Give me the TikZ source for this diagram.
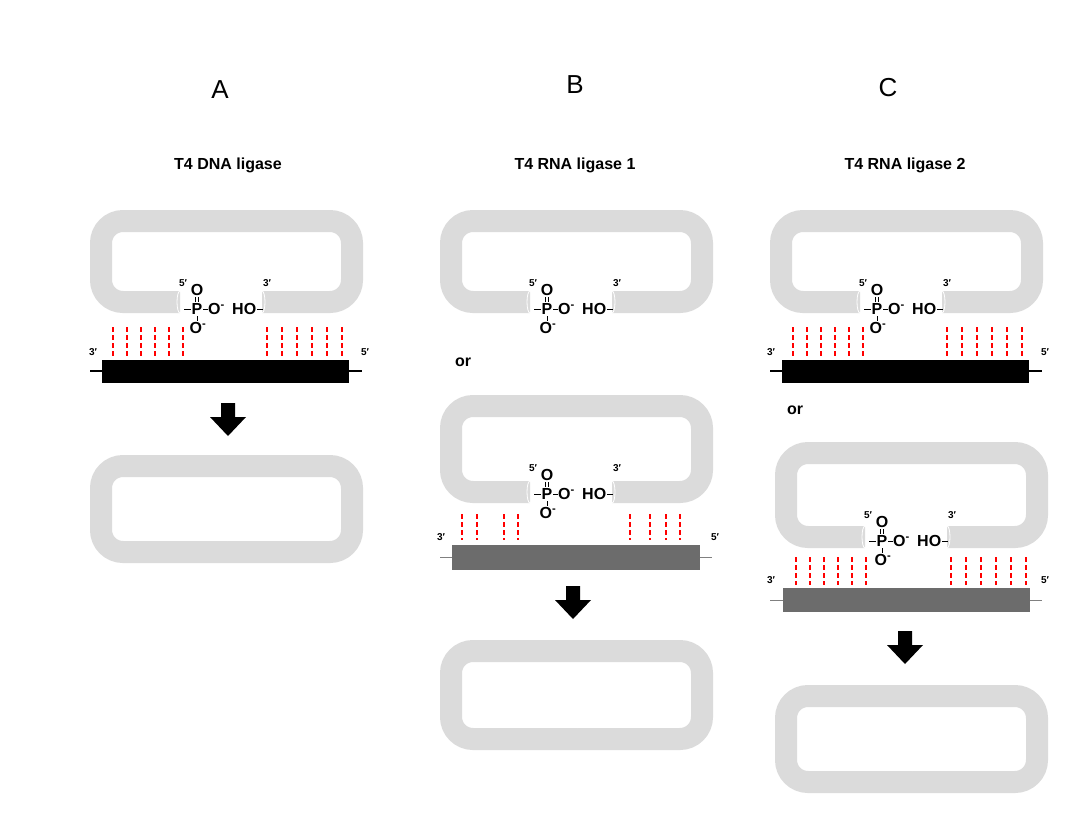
\documentclass[tikz,border=0pt]{standalone}
\usepackage{fontspec}
\setmainfont{Liberation Sans}
\begin{document}
\begin{tikzpicture}[x=1pt,y=-1pt,
  loop/.style={line width=22pt,draw=gray!28,rounded corners=22pt},
  lab/.style={font=\fontsize{10}{10}\selectfont\bfseries,inner sep=0pt},
  chem/.style={font=\fontsize{16}{16}\selectfont\bfseries,inner sep=0pt},
  hb/.style={draw=red,line width=1.6pt,dash pattern=on 5pt off 3pt},
  ttl/.style={font=\fontsize{16}{16}\selectfont\bfseries}]
\useasboundingbox (0,0) rectangle (1080,815);
\newcommand\bigarr[2]{\fill[black] (#1-7,#2) -- (#1+7,#2) -- (#1+7,#2+14) -- (#1+18,#2+14) -- (#1,#2+33) -- (#1-18,#2+14) -- (#1-7,#2+14) -- cycle;}
% open loop: #1 x outer left, #2 y outer top, #3 height
\newcommand\openloop[3]{%
  \draw[loop,line cap=butt] (#1+90,#2+#3-11) -- (#1+11,#2+#3-11) -- (#1+11,#2+11) -- (#1+262,#2+11) -- (#1+262,#2+#3-11) -- (#1+172,#2+#3-11);
  \draw[white,line width=0.8pt] (#1+90,#2+#3-11) ellipse (3pt and 11pt) (#1+172,#2+#3-11) ellipse (3pt and 11pt);
  \node[lab] at (#1+93,#2+73) {5′};
  \node[lab] at (#1+177,#2+73) {3′};
  \node[chem] at (#1+107,#2+80) {O};
  \draw[line width=0.9pt] (#1+105.5,#2+87) -- (#1+105.5,#2+92) (#1+108.5,#2+87) -- (#1+108.5,#2+92);
  \node[chem] at (#1+107,#2+99) {P};
  \draw[line width=1pt] (#1+94,#2+99) -- (#1+101,#2+99) (#1+113,#2+99) -- (#1+118,#2+99) (#1+107,#2+106) -- (#1+107,#2+111);
  \node[chem,anchor=west] at (#1+118,#2+99) {O\textsuperscript{-}};
  \node[chem] at (#1+108,#2+118) {O\textsuperscript{-}};
  \node[chem,anchor=west] at (#1+142,#2+99) {HO};
  \draw[line width=1pt] (#1+167,#2+99) -- (#1+173,#2+99);}
\newcommand\closedloop[3]{%
  \draw[loop] (#1+11,#2+11) rectangle (#1+262,#2+#3-11);
  \draw[white,line width=0.6pt] (#1+138,#2+#3-22) arc (-90:90:-2pt and 11pt);}
% ---------------- A
\node[font=\fontsize{26}{26}\selectfont] at (220,90) {A};
\node[ttl] at (228,165) {T4 DNA ligase};
\openloop{90}{210}{103}
\foreach \x in {113,127,141,155,169,183,267,282,297,312,327,342} \draw[hb] (\x,327) -- (\x,357);
\draw[line width=1.2pt] (90,371) -- (362,371);
\fill[black] (102,360) rectangle (349,383);
\node[lab] at (93,352) {3′};
\node[lab] at (365,352) {5′};
\bigarr{228}{403}
\closedloop{90}{455}{108}
% ---------------- B
\node[font=\fontsize{26}{26}\selectfont] at (575,85) {B};
\node[ttl] at (575,165) {T4 RNA ligase 1};
\openloop{440}{210}{103}
\node[ttl] at (463,362) {or};
\openloop{440}{395}{108}
\foreach \x in {462,477,504,518,630,650,666,680} \draw[hb] (\x,514) -- (\x,540);
\draw[line width=1pt,gray] (440,557) -- (712,557);
\fill[gray!85!black] (452,545) rectangle (700,570);
\node[lab] at (441,537) {3′};
\node[lab] at (715,537) {5′};
\bigarr{573}{586}
\closedloop{440}{640}{110}
% ---------------- C
\node[font=\fontsize{26}{26}\selectfont] at (888,88) {C};
\node[ttl] at (905,165) {T4 RNA ligase 2};
\openloop{770}{210}{103}
\foreach \x in {793,807,821,835,849,863,947,962,977,992,1007,1022} \draw[hb] (\x,327) -- (\x,357);
\draw[line width=1.2pt] (770,371) -- (1042,371);
\fill[black] (782,360) rectangle (1029,383);
\node[lab] at (771,352) {3′};
\node[lab] at (1045,352) {5′};
\node[ttl] at (795,410) {or};
\openloop{775}{442}{106}
\foreach \x in {796,810,824,838,852,866,951,966,981,996,1011,1026} \draw[hb] (\x,557) -- (\x,585);
\draw[line width=1pt,gray] (770,600) -- (1042,600);
\fill[gray!85!black] (783,588) rectangle (1030,612);
\node[lab] at (771,580) {3′};
\node[lab] at (1045,580) {5′};
\bigarr{905}{631}
\closedloop{775}{685}{108}
\end{tikzpicture}
\end{document}
